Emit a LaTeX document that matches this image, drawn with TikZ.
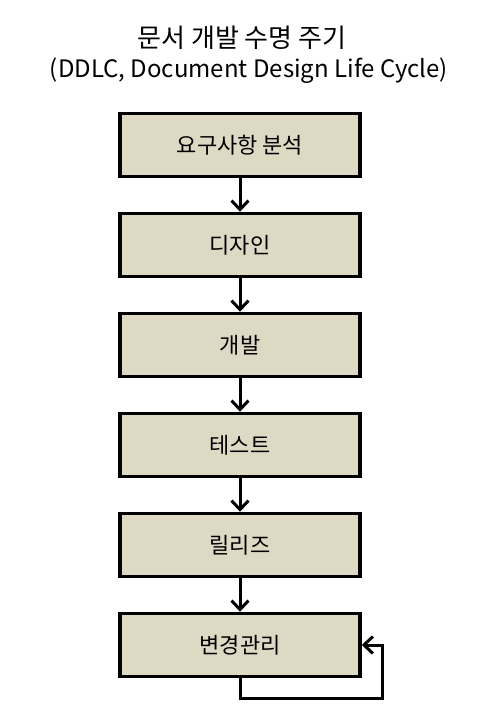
\documentclass[tikz,border=0pt]{standalone}
\usepackage{fontspec}
\setmainfont{Noto Sans CJK KR}
\usetikzlibrary{arrows.meta}
\definecolor{boxfill}{HTML}{DDD9C3}
\tikzset{
  stepbox/.style={draw=black, line width=3.5pt, fill=boxfill, minimum width=240pt, minimum height=63pt, inner sep=0pt, font=\fontsize{22}{26}\selectfont},
  flow/.style={line width=3pt, -{Straight Barb[length=9pt,width=17pt,line width=3pt]}},
}
\begin{document}
\begin{tikzpicture}[x=1pt,y=-1pt]
\useasboundingbox (0,0) rectangle (501,721);
\node[font=\fontsize{26}{30}\selectfont] (t1) at (242,38) {문서 개발 수명 주기};
\node[font=\fontsize{24}{28}\selectfont] (t2) at (249,71) {(DDLC, Document Design Life Cycle)};
\node[stepbox] (b1) at (240,145) {요구사항 분석};
\node[stepbox] (b2) at (240,245) {디자인};
\node[stepbox] (b3) at (240,345) {개발};
\node[stepbox] (b4) at (240,445) {테스트};
\node[stepbox] (b5) at (240,545) {릴리즈};
\node[stepbox] (b6) at (240,645) {변경관리};
\draw[flow] (b1) -- (b2);
\draw[flow] (b2) -- (b3);
\draw[flow] (b3) -- (b4);
\draw[flow] (b4) -- (b5);
\draw[flow] (b5) -- (b6);
\coordinate (c1) at (240,698);
\coordinate (c2) at (382,698);
\draw[flow] (b6.south) -- (c1) -- (c2) |- (b6.east);
\end{tikzpicture}
\end{document}
